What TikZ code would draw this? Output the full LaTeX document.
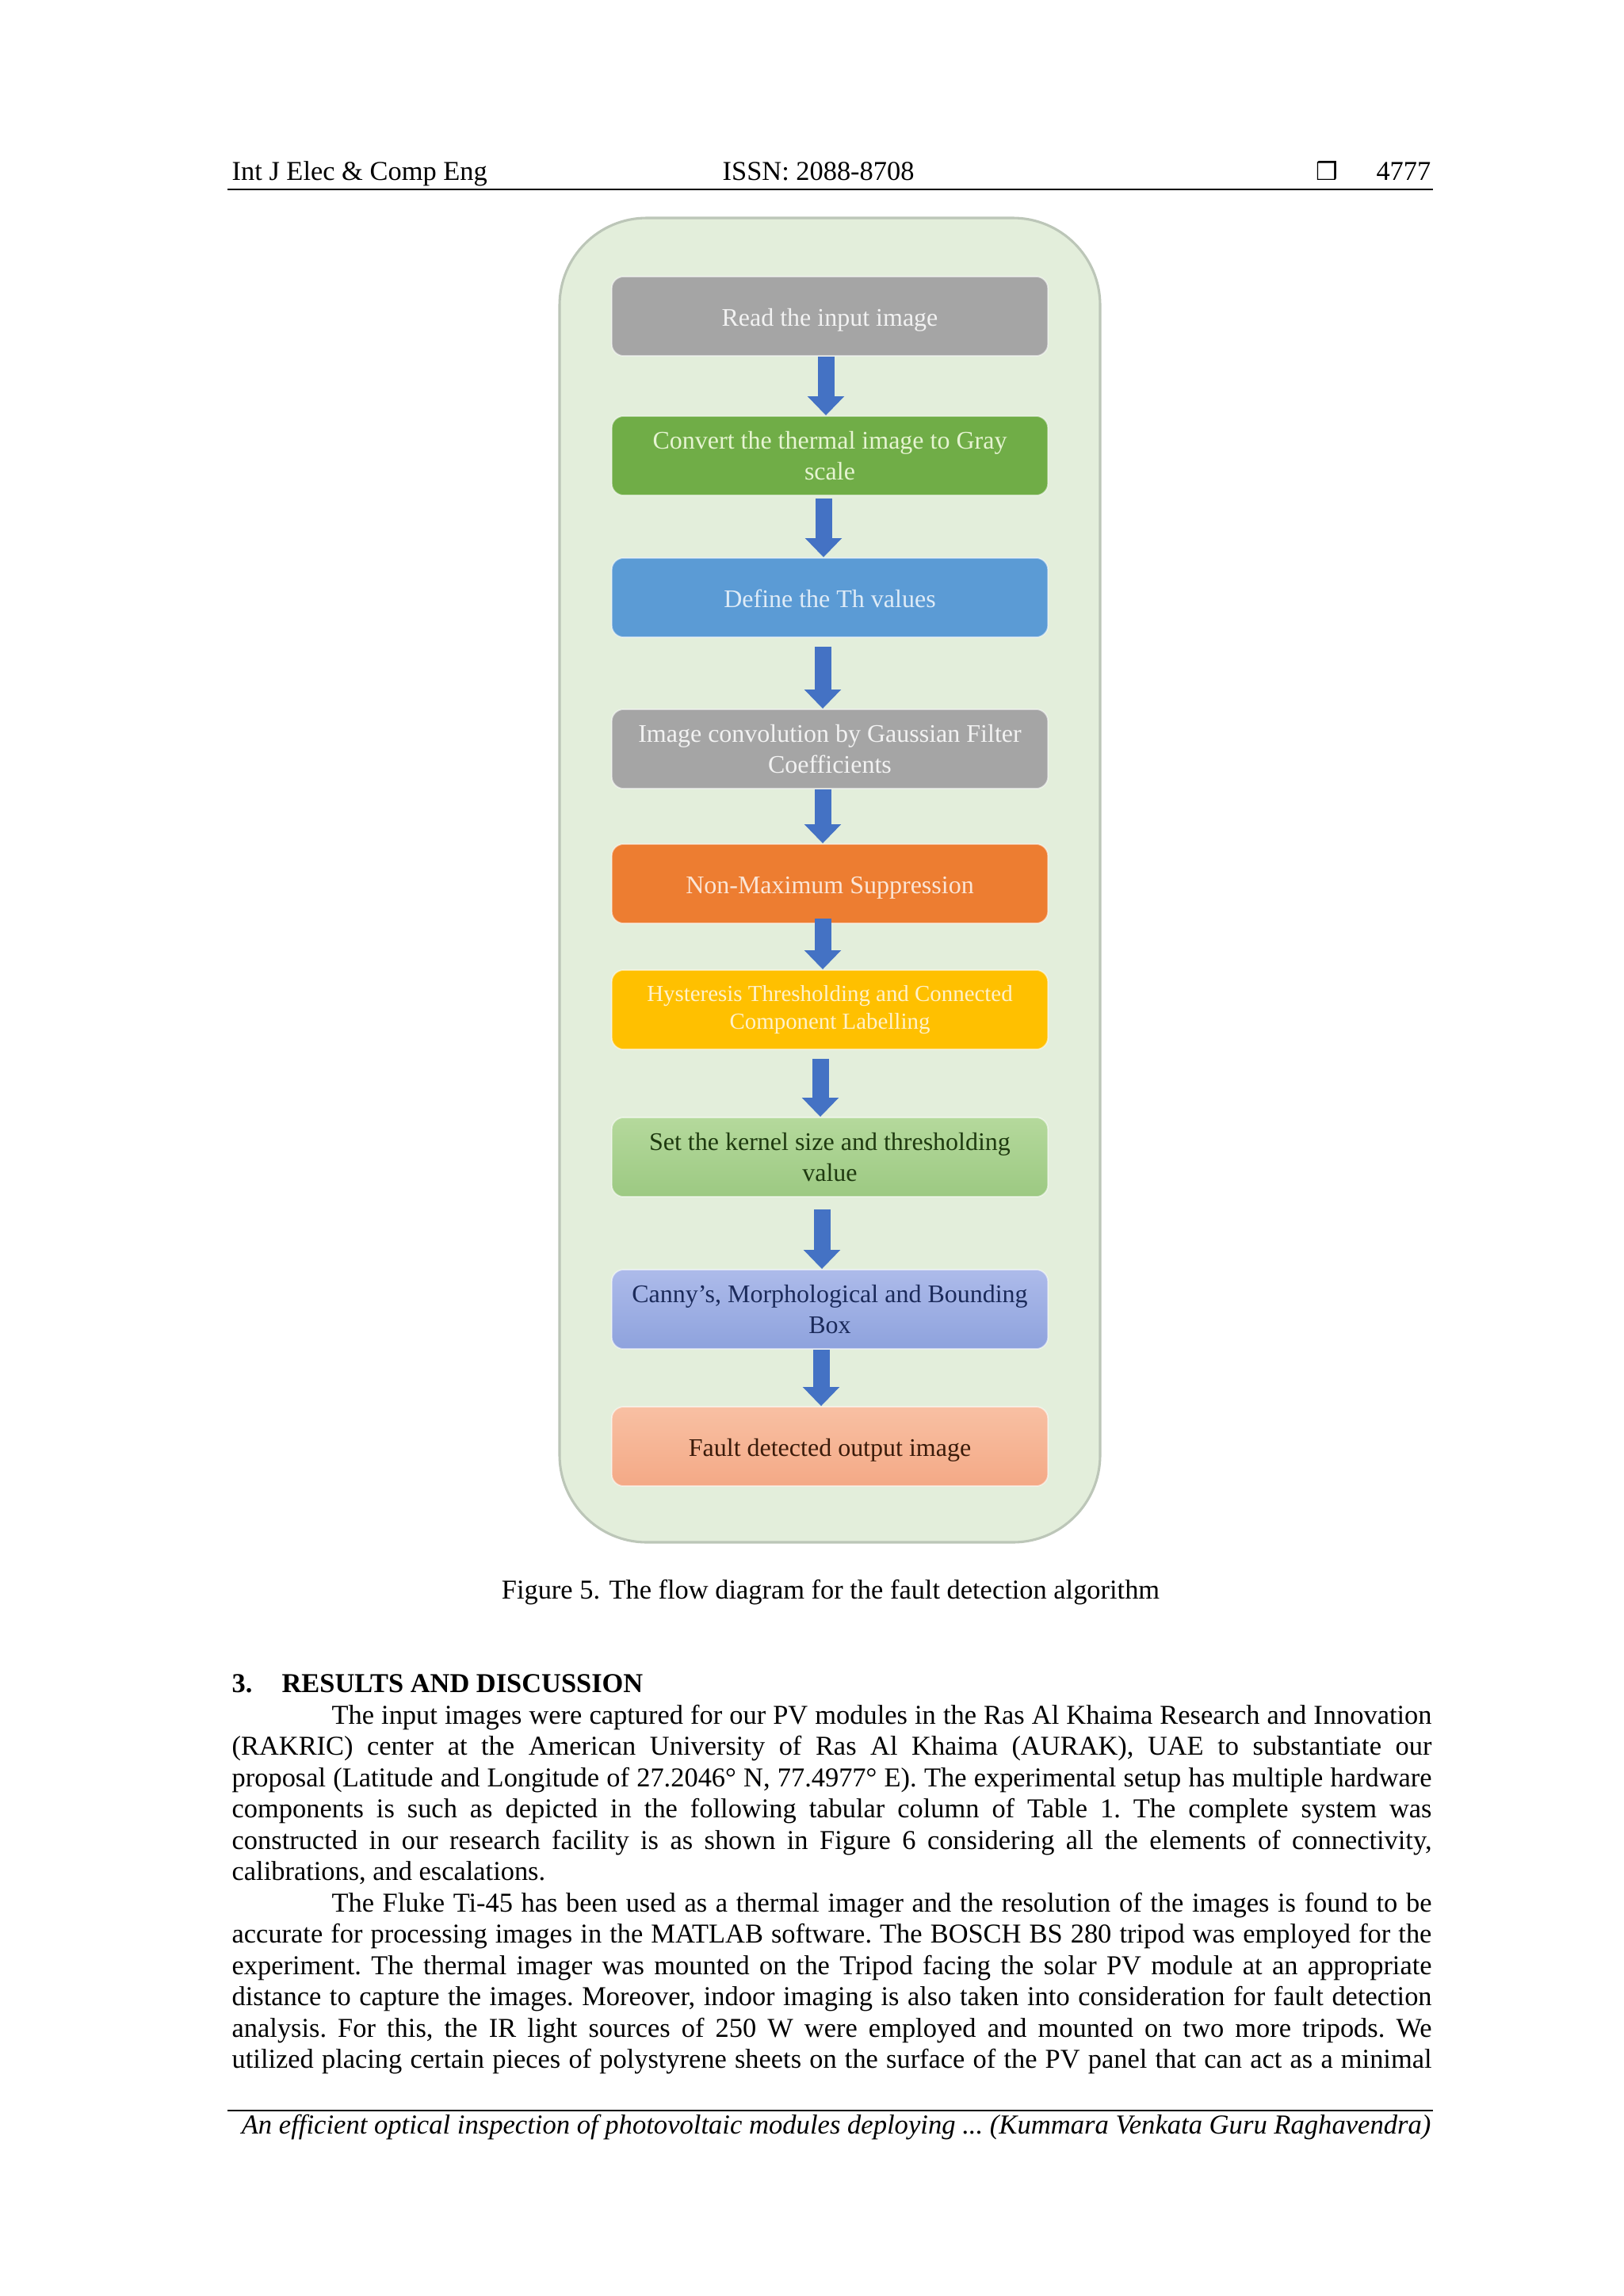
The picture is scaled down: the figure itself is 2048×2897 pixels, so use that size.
\documentclass[tikz,border=0pt]{standalone}
\usepackage{fontspec}
\setmainfont{Liberation Serif}
\newfontfamily\symfont{DejaVu Sans}
\usetikzlibrary{arrows.meta,calc}
\definecolor{panelfill}{HTML}{E3EEDB}
\definecolor{paneldraw}{HTML}{BCC6B8}
\definecolor{arrowblue}{HTML}{4472C4}
\definecolor{cgray}{HTML}{A5A5A5}
\definecolor{cgreen}{HTML}{70AD47}
\definecolor{cblue}{HTML}{5B9BD5}
\definecolor{corange}{HTML}{ED7D31}
\definecolor{cgold}{HTML}{FFC000}
\definecolor{lgtop}{HTML}{B5D99C}
\definecolor{lgbot}{HTML}{9CC982}
\definecolor{lvtop}{HTML}{ADBBEA}
\definecolor{lvbot}{HTML}{8EA2DD}
\definecolor{satop}{HTML}{F8C0A3}
\definecolor{sabot}{HTML}{F4A986}
\definecolor{tgray}{HTML}{F2F2F2}
\definecolor{tgreen}{HTML}{E6F4D2}
\definecolor{tblue}{HTML}{DEEBF7}
\definecolor{torange}{HTML}{FBE5D6}
\definecolor{tgold}{HTML}{FFF2CC}
\definecolor{tdgreen}{HTML}{1F3A10}
\definecolor{tnavy}{HTML}{1B2A5A}
\definecolor{tbrown}{HTML}{3A1B0A}
\newcommand{\natsp}{\spaceskip=0pt\xspaceskip=0pt\frenchspacing\relax}
\newcommand{\fixsp}{\spaceskip=\fontdimen2\font\xspaceskip=\fontdimen2\font\frenchspacing\relax}
\begin{document}
\begin{tikzpicture}[x=0.29066pt,y=-0.29066pt,
  pagetext/.style={inner sep=0pt,font=\fontsize{10}{11.49}\selectfont},
  panel/.style={fill=panelfill,draw=paneldraw,line width=0.9pt,rounded corners=32pt},
  flowbox/.style={rectangle,rounded corners=4.4pt,minimum width=159.6pt,minimum height=29.1pt,
    text width=158pt,align=center,inner sep=1pt,draw=white,draw opacity=0.55,line width=0.5pt,
    font=\fontsize{9.3}{11.3}\selectfont},
  oneline/.style={text height=9.4pt,text depth=2.1pt},
  flowarr/.style={draw=arrowblue,line width=6.1pt,
    -{Triangle[width=13.1pt,length=7pt]}}
]
\useasboundingbox[fill=white] (0,0) rectangle (2048,2897);

% header
\node[pagetext,anchor=base west] (hleft) at (292,227) {Int J Elec \& Comp Eng};
\node[pagetext,anchor=base west] (hmid) at (911,227) {ISSN: 2088-8708};
\node[inner sep=0pt,anchor=base west,font=\symfont\fontsize{9}{10}\selectfont] (hsym) at (1660,227) {❒};
\node[pagetext,anchor=base east] (hpage) at (1806,227) {4777};
\draw[line width=0.6pt] (287,239) -- (1808,239);

% figure panel
\draw[panel] (706,275) rectangle (1388,1946);

% flow boxes
\node[flowbox,oneline,fill=cgray,text=tgray] (b1) at (1047,399) {\fixsp Read the input image};
\node[flowbox,fill=cgreen,text=tgreen] (b2) at (1047,575) {\fixsp Convert the thermal image to Gray\\ scale};
\node[flowbox,oneline,fill=cblue,text=tblue] (b3) at (1047,754) {\fixsp Define the Th values};
\node[flowbox,fill=cgray,text=tgray] (b4) at (1047,945) {\fixsp Image convolution by Gaussian Filter\\ Coefficients};
\node[flowbox,oneline,fill=corange,text=torange] (b5) at (1047,1115) {\fixsp Non-Maximum Suppression};
\node[flowbox,fill=cgold,text=tgold,font=\fontsize{8.4}{10.2}\selectfont] (b6) at (1047,1274) {\fixsp Hysteresis Thresholding and Connected\\ Component Labelling};
\node[flowbox,top color=lgtop,bottom color=lgbot,text=tdgreen] (b7) at (1047,1460) {\fixsp Set the kernel size and thresholding\\ value};
\node[flowbox,top color=lvtop,bottom color=lvbot,text=tnavy] (b8) at (1047,1652) {\fixsp Canny's, Morphological and Bounding\\ Box};
\node[flowbox,oneline,top color=satop,bottom color=sabot,text=tbrown] (b9) at (1047,1825) {\fixsp Fault detected output image};

% arrows
\draw[flowarr] ($(b1.south)+(-5,0)$) -- ($(b2.north)+(-5,0)$);
\draw[flowarr] ($(b2.south)+(-8,3)$) -- ($(b3.north)+(-8,0)$);
\draw[flowarr] ($(b3.south)+(-9,11)$) -- ($(b4.north)+(-9,0)$);
\draw[flowarr] ($(b4.south)+(-9,0)$) -- ($(b5.north)+(-9,0)$);
\draw[flowarr] ($(b5.south)+(-9,-7)$) -- ($(b6.north)+(-9,0)$);
\draw[flowarr] ($(b6.south)+(-12,11)$) -- ($(b7.north)+(-12,0)$);
\draw[flowarr] ($(b7.south)+(-10,15)$) -- ($(b8.north)+(-10,0)$);
\draw[flowarr] ($(b8.south)+(-11,0)$) -- ($(b9.north)+(-11,0)$);

% caption
\node[pagetext,anchor=base] (cap) at (1048,2017) {Figure 5. The flow diagram for the fault detection algorithm};

% section heading
\node[pagetext,anchor=base west,font=\bfseries\fontsize{10}{11.49}\selectfont] (sec) at (292,2135) {\makebox[18.3pt][l]{3.}RESULTS AND DISCUSSION};

% body text
\node[pagetext,anchor=base west,text width=440pt,align=left] (body) at (292,2175) {\natsp
\makebox[440pt][s]{\hspace*{36.6pt}The input images were captured for our PV modules in the Ras Al Khaima Research and Innovation}\\
\makebox[440pt][s]{(RAKRIC) center at the American University of Ras Al Khaima (AURAK), UAE to substantiate our}\\
\makebox[440pt][s]{proposal (Latitude and Longitude of 27.2046° N, 77.4977° E). The experimental setup has multiple hardware}\\
\makebox[440pt][s]{components is such as depicted in the following tabular column of Table 1. The complete system was}\\
\makebox[440pt][s]{constructed in our research facility is as shown in Figure 6 considering all the elements of connectivity,}\\
calibrations, and escalations.\\
\makebox[440pt][s]{\hspace*{36.6pt}The Fluke Ti-45 has been used as a thermal imager and the resolution of the images is found to be}\\
\makebox[440pt][s]{accurate for processing images in the MATLAB software. The BOSCH BS 280 tripod was employed for the}\\
\makebox[440pt][s]{experiment. The thermal imager was mounted on the Tripod facing the solar PV module at an appropriate}\\
\makebox[440pt][s]{distance to capture the images. Moreover, indoor imaging is also taken into consideration for fault detection}\\
\makebox[440pt][s]{analysis. For this, the IR light sources of 250 W were employed and mounted on two more tripods. We}\\
\makebox[440pt][s]{utilized placing certain pieces of polystyrene sheets on the surface of the PV panel that can act as a minimal}};

% footer
\draw[line width=0.6pt] (287,2663) -- (1808,2663);
\node[pagetext,anchor=base east,font=\itshape\fontsize{10.06}{11.49}\selectfont] (foot) at (1806,2692) {\fixsp An efficient optical inspection of photovoltaic modules deploying ... (Kummara Venkata Guru Raghavendra)};
\end{tikzpicture}
\end{document}
